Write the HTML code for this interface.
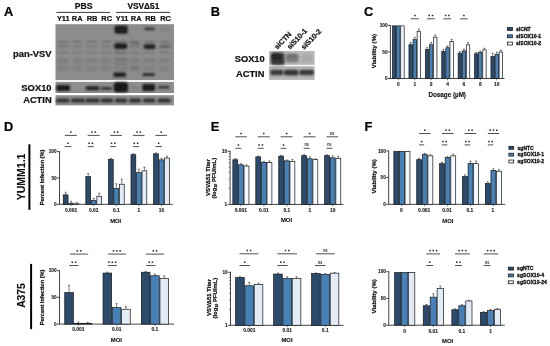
<!DOCTYPE html>
<html><head><meta charset="utf-8"><title>Figure</title>
<style>html,body{margin:0;padding:0;background:#fff;width:550px;height:346px;overflow:hidden}svg{display:block}</style>
</head><body>
<svg width="550" height="346" viewBox="0 0 550 346" font-family="'Liberation Sans', Arial, sans-serif">
<defs><filter id="bl" x="-50%" y="-100%" width="200%" height="300%"><feGaussianBlur stdDeviation="1.0"/></filter><filter id="bl2" x="-50%" y="-100%" width="200%" height="300%"><feGaussianBlur stdDeviation="1.4"/></filter></defs>
<rect width="550" height="346" fill="#fff"/>
<text x="3.90" y="15.60" font-size="12.8" text-anchor="start" font-weight="bold" fill="#000" stroke="#000" stroke-width="0.2">A</text>
<text x="210.80" y="15.60" font-size="12.8" text-anchor="start" font-weight="bold" fill="#000" stroke="#000" stroke-width="0.2">B</text>
<text x="363.90" y="15.80" font-size="12.8" text-anchor="start" font-weight="bold" fill="#000" stroke="#000" stroke-width="0.2">C</text>
<text x="3.90" y="131.00" font-size="12.8" text-anchor="start" font-weight="bold" fill="#000" stroke="#000" stroke-width="0.2">D</text>
<text x="210.80" y="131.30" font-size="12.8" text-anchor="start" font-weight="bold" fill="#000" stroke="#000" stroke-width="0.2">E</text>
<text x="364.40" y="130.80" font-size="12.8" text-anchor="start" font-weight="bold" fill="#000" stroke="#000" stroke-width="0.2">F</text>
<text x="83.70" y="9.20" font-size="8.6" text-anchor="middle" font-weight="bold" fill="#111" stroke="#111" stroke-width="0.22">PBS</text>
<text x="143.40" y="8.90" font-size="8.3" text-anchor="middle" font-weight="bold" fill="#111" stroke="#111" stroke-width="0.22">VSV&#916;51</text>
<line x1="56.40" y1="12.40" x2="110.00" y2="12.40" stroke="#222" stroke-width="0.9"/>
<line x1="116.00" y1="12.40" x2="170.00" y2="12.40" stroke="#222" stroke-width="0.9"/>
<text x="63.30" y="21.10" font-size="7.4" text-anchor="middle" font-weight="bold" fill="#111" stroke="#111" stroke-width="0.22">Y11</text>
<text x="77.20" y="21.10" font-size="7.4" text-anchor="middle" font-weight="bold" fill="#111" stroke="#111" stroke-width="0.22">RA</text>
<text x="92.00" y="21.10" font-size="7.4" text-anchor="middle" font-weight="bold" fill="#111" stroke="#111" stroke-width="0.22">RB</text>
<text x="106.70" y="21.10" font-size="7.4" text-anchor="middle" font-weight="bold" fill="#111" stroke="#111" stroke-width="0.22">RC</text>
<text x="122.10" y="21.10" font-size="7.4" text-anchor="middle" font-weight="bold" fill="#111" stroke="#111" stroke-width="0.22">Y11</text>
<text x="136.20" y="21.10" font-size="7.4" text-anchor="middle" font-weight="bold" fill="#111" stroke="#111" stroke-width="0.22">RA</text>
<text x="150.50" y="21.10" font-size="7.4" text-anchor="middle" font-weight="bold" fill="#111" stroke="#111" stroke-width="0.22">RB</text>
<text x="165.50" y="21.10" font-size="7.4" text-anchor="middle" font-weight="bold" fill="#111" stroke="#111" stroke-width="0.22">RC</text>
<text x="51.60" y="56.80" font-size="9.4" text-anchor="end" font-weight="bold" fill="#111" stroke="#111" stroke-width="0.22">pan-VSV</text>
<text x="51.60" y="90.70" font-size="9.4" text-anchor="end" font-weight="bold" fill="#111" stroke="#111" stroke-width="0.22">SOX10</text>
<text x="51.60" y="102.70" font-size="9.3" text-anchor="end" font-weight="bold" fill="#111" stroke="#111" stroke-width="0.22">ACTIN</text>
<g><rect x="55.5" y="24.2" width="118.5" height="55.9" fill="#8c8c8c"/><rect x="55.5" y="81.9" width="118.5" height="11.1" fill="#8e8e8e"/><rect x="55.5" y="95.2" width="118.5" height="10.2" fill="#909090"/><rect x="57.50" y="41.00" width="11.00" height="1.60" rx="0.8" fill="#555" opacity="0.6" filter="url(#bl)"/><rect x="57.50" y="45.70" width="11.00" height="1.60" rx="0.8" fill="#555" opacity="0.5" filter="url(#bl)"/><rect x="57.50" y="51.70" width="11.00" height="1.60" rx="0.8" fill="#555" opacity="0.45" filter="url(#bl)"/><rect x="57.50" y="59.00" width="11.00" height="1.60" rx="0.8" fill="#555" opacity="0.5" filter="url(#bl)"/><rect x="57.50" y="66.70" width="11.00" height="1.60" rx="0.8" fill="#555" opacity="0.4" filter="url(#bl)"/><rect x="57.50" y="62.20" width="11.00" height="1.60" rx="0.8" fill="#555" opacity="0.3" filter="url(#bl)"/><rect x="57.50" y="69.70" width="11.00" height="1.60" rx="0.8" fill="#555" opacity="0.3" filter="url(#bl)"/><rect x="72.50" y="41.00" width="9.50" height="1.60" rx="0.8" fill="#555" opacity="0.6" filter="url(#bl)"/><rect x="72.50" y="45.70" width="9.50" height="1.60" rx="0.8" fill="#555" opacity="0.5" filter="url(#bl)"/><rect x="72.50" y="51.70" width="9.50" height="1.60" rx="0.8" fill="#555" opacity="0.45" filter="url(#bl)"/><rect x="72.50" y="59.00" width="9.50" height="1.60" rx="0.8" fill="#555" opacity="0.5" filter="url(#bl)"/><rect x="72.50" y="66.70" width="9.50" height="1.60" rx="0.8" fill="#555" opacity="0.4" filter="url(#bl)"/><rect x="72.50" y="62.20" width="9.50" height="1.60" rx="0.8" fill="#555" opacity="0.3" filter="url(#bl)"/><rect x="72.50" y="69.70" width="9.50" height="1.60" rx="0.8" fill="#555" opacity="0.3" filter="url(#bl)"/><rect x="86.50" y="41.00" width="10.50" height="1.60" rx="0.8" fill="#555" opacity="0.6" filter="url(#bl)"/><rect x="86.50" y="45.70" width="10.50" height="1.60" rx="0.8" fill="#555" opacity="0.5" filter="url(#bl)"/><rect x="86.50" y="51.70" width="10.50" height="1.60" rx="0.8" fill="#555" opacity="0.45" filter="url(#bl)"/><rect x="86.50" y="59.00" width="10.50" height="1.60" rx="0.8" fill="#555" opacity="0.5" filter="url(#bl)"/><rect x="86.50" y="66.70" width="10.50" height="1.60" rx="0.8" fill="#555" opacity="0.4" filter="url(#bl)"/><rect x="86.50" y="62.20" width="10.50" height="1.60" rx="0.8" fill="#555" opacity="0.3" filter="url(#bl)"/><rect x="86.50" y="69.70" width="10.50" height="1.60" rx="0.8" fill="#555" opacity="0.3" filter="url(#bl)"/><rect x="101.00" y="41.00" width="10.50" height="1.60" rx="0.8" fill="#555" opacity="0.6" filter="url(#bl)"/><rect x="101.00" y="45.70" width="10.50" height="1.60" rx="0.8" fill="#555" opacity="0.5" filter="url(#bl)"/><rect x="101.00" y="51.70" width="10.50" height="1.60" rx="0.8" fill="#555" opacity="0.45" filter="url(#bl)"/><rect x="101.00" y="59.00" width="10.50" height="1.60" rx="0.8" fill="#555" opacity="0.5" filter="url(#bl)"/><rect x="101.00" y="66.70" width="10.50" height="1.60" rx="0.8" fill="#555" opacity="0.4" filter="url(#bl)"/><rect x="101.00" y="62.20" width="10.50" height="1.60" rx="0.8" fill="#555" opacity="0.3" filter="url(#bl)"/><rect x="101.00" y="69.70" width="10.50" height="1.60" rx="0.8" fill="#555" opacity="0.3" filter="url(#bl)"/><rect x="114.50" y="41.00" width="13.00" height="1.60" rx="0.8" fill="#555" opacity="0.6" filter="url(#bl)"/><rect x="114.50" y="45.70" width="13.00" height="1.60" rx="0.8" fill="#555" opacity="0.5" filter="url(#bl)"/><rect x="114.50" y="51.70" width="13.00" height="1.60" rx="0.8" fill="#555" opacity="0.45" filter="url(#bl)"/><rect x="114.50" y="59.00" width="13.00" height="1.60" rx="0.8" fill="#555" opacity="0.5" filter="url(#bl)"/><rect x="114.50" y="66.70" width="13.00" height="1.60" rx="0.8" fill="#555" opacity="0.4" filter="url(#bl)"/><rect x="114.50" y="62.20" width="13.00" height="1.60" rx="0.8" fill="#555" opacity="0.3" filter="url(#bl)"/><rect x="114.50" y="69.70" width="13.00" height="1.60" rx="0.8" fill="#555" opacity="0.3" filter="url(#bl)"/><rect x="130.00" y="41.00" width="9.50" height="1.60" rx="0.8" fill="#555" opacity="0.6" filter="url(#bl)"/><rect x="130.00" y="45.70" width="9.50" height="1.60" rx="0.8" fill="#555" opacity="0.5" filter="url(#bl)"/><rect x="130.00" y="51.70" width="9.50" height="1.60" rx="0.8" fill="#555" opacity="0.45" filter="url(#bl)"/><rect x="130.00" y="59.00" width="9.50" height="1.60" rx="0.8" fill="#555" opacity="0.5" filter="url(#bl)"/><rect x="130.00" y="66.70" width="9.50" height="1.60" rx="0.8" fill="#555" opacity="0.4" filter="url(#bl)"/><rect x="130.00" y="62.20" width="9.50" height="1.60" rx="0.8" fill="#555" opacity="0.3" filter="url(#bl)"/><rect x="130.00" y="69.70" width="9.50" height="1.60" rx="0.8" fill="#555" opacity="0.3" filter="url(#bl)"/><rect x="144.00" y="41.00" width="11.00" height="1.60" rx="0.8" fill="#555" opacity="0.6" filter="url(#bl)"/><rect x="144.00" y="45.70" width="11.00" height="1.60" rx="0.8" fill="#555" opacity="0.5" filter="url(#bl)"/><rect x="144.00" y="51.70" width="11.00" height="1.60" rx="0.8" fill="#555" opacity="0.45" filter="url(#bl)"/><rect x="144.00" y="59.00" width="11.00" height="1.60" rx="0.8" fill="#555" opacity="0.5" filter="url(#bl)"/><rect x="144.00" y="66.70" width="11.00" height="1.60" rx="0.8" fill="#555" opacity="0.4" filter="url(#bl)"/><rect x="144.00" y="62.20" width="11.00" height="1.60" rx="0.8" fill="#555" opacity="0.3" filter="url(#bl)"/><rect x="144.00" y="69.70" width="11.00" height="1.60" rx="0.8" fill="#555" opacity="0.3" filter="url(#bl)"/><rect x="160.00" y="41.00" width="10.00" height="1.60" rx="0.8" fill="#555" opacity="0.6" filter="url(#bl)"/><rect x="160.00" y="45.70" width="10.00" height="1.60" rx="0.8" fill="#555" opacity="0.5" filter="url(#bl)"/><rect x="160.00" y="51.70" width="10.00" height="1.60" rx="0.8" fill="#555" opacity="0.45" filter="url(#bl)"/><rect x="160.00" y="59.00" width="10.00" height="1.60" rx="0.8" fill="#555" opacity="0.5" filter="url(#bl)"/><rect x="160.00" y="66.70" width="10.00" height="1.60" rx="0.8" fill="#555" opacity="0.4" filter="url(#bl)"/><rect x="160.00" y="62.20" width="10.00" height="1.60" rx="0.8" fill="#555" opacity="0.3" filter="url(#bl)"/><rect x="160.00" y="69.70" width="10.00" height="1.60" rx="0.8" fill="#555" opacity="0.3" filter="url(#bl)"/><rect x="114.50" y="25.40" width="13.20" height="8.40" rx="2.5" fill="#1e1e1e" opacity="1" filter="url(#bl)"/><rect x="116" y="29.4" width="10.5" height="0.8" fill="#555" opacity="0.5" filter="url(#bl)"/><rect x="114.20" y="43.30" width="13.00" height="5.70" rx="2.5" fill="#1b1b1b" opacity="1" filter="url(#bl)"/><rect x="113.20" y="72.50" width="13.00" height="4.50" rx="2.2" fill="#1e1e1e" opacity="1" filter="url(#bl)"/><rect x="144.30" y="27.60" width="10.60" height="2.70" rx="1" fill="#2e2e2e" opacity="0.9" filter="url(#bl)"/><rect x="143.70" y="44.30" width="11.80" height="4.70" rx="2.2" fill="#222" opacity="1" filter="url(#bl)"/><rect x="142.60" y="73.40" width="12.10" height="2.50" rx="1.2" fill="#1a1a1a" opacity="1" filter="url(#bl)"/><rect x="130.00" y="42.50" width="10.00" height="2.10" rx="1" fill="#555" opacity="0.6" filter="url(#bl)"/><rect x="115.00" y="52.00" width="12.00" height="1.60" rx="1" fill="#555" opacity="0.5" filter="url(#bl)"/><rect x="115.00" y="58.00" width="12.00" height="1.60" rx="1" fill="#555" opacity="0.4" filter="url(#bl)"/><rect x="115.00" y="63.50" width="12.00" height="1.50" rx="1" fill="#555" opacity="0.4" filter="url(#bl)"/><rect x="130.00" y="66.80" width="10.00" height="1.60" rx="1" fill="#555" opacity="0.45" filter="url(#bl)"/><rect x="159.60" y="45.20" width="10.70" height="2.80" rx="1" fill="#555" opacity="0.7" filter="url(#bl)"/><rect x="159.60" y="28.40" width="10.70" height="2.00" rx="1" fill="#666" opacity="0.4" filter="url(#bl)"/><rect x="56.20" y="85.00" width="13.90" height="6.00" rx="2" fill="#1c1c1c" opacity="1" filter="url(#bl)"/><rect x="85.50" y="86.30" width="14.10" height="4.00" rx="1.8" fill="#222" opacity="1" filter="url(#bl)"/><rect x="100.80" y="87.00" width="11.20" height="2.80" rx="1.2" fill="#2a2a2a" opacity="0.95" filter="url(#bl)"/><rect x="113.80" y="82.20" width="14.20" height="10.10" rx="3" fill="#141414" opacity="1" filter="url(#bl)"/><rect x="130.50" y="87.20" width="9.00" height="1.60" rx="0.8" fill="#555" opacity="0.5" filter="url(#bl)"/><rect x="142.20" y="83.90" width="13.00" height="7.10" rx="2.5" fill="#1a1a1a" opacity="1" filter="url(#bl)"/><rect x="158.30" y="85.90" width="11.10" height="2.70" rx="1.2" fill="#2a2a2a" opacity="0.95" filter="url(#bl)"/><rect x="56.00" y="98.60" width="13.50" height="3.80" rx="1.5" fill="#2c2c2c" opacity="0.95" filter="url(#bl)"/><rect x="71.00" y="98.60" width="14.00" height="3.80" rx="1.5" fill="#2c2c2c" opacity="0.95" filter="url(#bl)"/><rect x="85.50" y="98.60" width="14.10" height="3.80" rx="1.5" fill="#2c2c2c" opacity="0.95" filter="url(#bl)"/><rect x="100.80" y="98.60" width="12.40" height="3.80" rx="1.5" fill="#2c2c2c" opacity="0.95" filter="url(#bl)"/><rect x="115.00" y="98.60" width="12.00" height="3.80" rx="1.5" fill="#2c2c2c" opacity="0.95" filter="url(#bl)"/><rect x="129.20" y="98.60" width="11.80" height="3.80" rx="1.5" fill="#2c2c2c" opacity="0.95" filter="url(#bl)"/><rect x="143.00" y="98.60" width="12.20" height="3.80" rx="1.5" fill="#2c2c2c" opacity="0.95" filter="url(#bl)"/><rect x="157.50" y="98.60" width="13.00" height="3.80" rx="1.5" fill="#2c2c2c" opacity="0.95" filter="url(#bl)"/></g>
<g><rect x="269.1" y="51" width="45.5" height="13.9" fill="#b9b9b9"/><rect x="269.1" y="66.1" width="45.5" height="13.8" fill="#b6b6b6"/><rect x="271.00" y="52.80" width="13.60" height="12.20" rx="2.5" fill="#3a3a3a" opacity="1" filter="url(#bl)"/><rect x="271.60" y="53.50" width="9.40" height="7.10" rx="2.5" fill="#222" opacity="0.8" filter="url(#bl)"/><rect x="286.00" y="53.80" width="12.60" height="8.70" rx="2.5" fill="#727272" opacity="0.85" filter="url(#bl)"/><rect x="286.50" y="54.20" width="10.50" height="4.30" rx="2" fill="#666" opacity="0.6" filter="url(#bl)"/><rect x="301.50" y="54.50" width="11.00" height="7.50" rx="2" fill="#9c9c9c" opacity="0.55" filter="url(#bl)"/><rect x="270.30" y="69.80" width="13.30" height="5.40" rx="2" fill="#3a3a3a" opacity="1" filter="url(#bl)"/><rect x="284.00" y="69.80" width="14.60" height="5.60" rx="2" fill="#363636" opacity="1" filter="url(#bl)"/><rect x="299.30" y="69.80" width="14.70" height="5.40" rx="2" fill="#3a3a3a" opacity="1" filter="url(#bl)"/></g>
<text x="264.70" y="62.20" font-size="9.3" text-anchor="end" font-weight="bold" fill="#111" stroke="#111" stroke-width="0.22">SOX10</text>
<text x="264.40" y="76.90" font-size="9.3" text-anchor="end" font-weight="bold" fill="#111" stroke="#111" stroke-width="0.22">ACTIN</text>
<text x="277.30" y="49.80" font-size="7.3" text-anchor="start" font-weight="bold" fill="#111" stroke="#111" stroke-width="0.22" transform="rotate(-46 277.30 49.80)">siCTN</text>
<text x="289.90" y="49.80" font-size="7.3" text-anchor="start" font-weight="bold" fill="#111" stroke="#111" stroke-width="0.22" transform="rotate(-46 289.90 49.80)">siS10-1</text>
<text x="304.10" y="50.10" font-size="7.3" text-anchor="start" font-weight="bold" fill="#111" stroke="#111" stroke-width="0.22" transform="rotate(-46 304.10 50.10)">siS10-2</text>
<line x1="390.40" y1="25.00" x2="390.40" y2="78.90" stroke="#3c3c3c" stroke-width="0.95"/>
<line x1="390.40" y1="78.50" x2="504.50" y2="78.50" stroke="#3c3c3c" stroke-width="0.95"/>
<line x1="387.90" y1="78.50" x2="390.40" y2="78.50" stroke="#2a2a2a" stroke-width="0.85"/>
<text x="387.50" y="80.15" font-size="4.7" text-anchor="end" font-weight="bold" fill="#1a1a1a" stroke="#1a1a1a" stroke-width="0.12">0</text>
<line x1="387.90" y1="51.95" x2="390.40" y2="51.95" stroke="#2a2a2a" stroke-width="0.85"/>
<text x="387.50" y="53.60" font-size="4.7" text-anchor="end" font-weight="bold" fill="#1a1a1a" stroke="#1a1a1a" stroke-width="0.12">50</text>
<line x1="387.90" y1="25.40" x2="390.40" y2="25.40" stroke="#2a2a2a" stroke-width="0.85"/>
<text x="387.50" y="27.05" font-size="4.7" text-anchor="end" font-weight="bold" fill="#1a1a1a" stroke="#1a1a1a" stroke-width="0.12">100</text>
<rect x="392.55" y="25.85" width="3.40" height="52.65" fill="#2b4a6c" stroke="#161616" stroke-width="0.7"/>
<rect x="396.65" y="25.85" width="3.40" height="52.65" fill="#4682b8" stroke="#161616" stroke-width="0.7"/>
<rect x="400.75" y="25.85" width="3.40" height="52.65" fill="#f6f9fd" stroke="#161616" stroke-width="0.7"/>
<line x1="398.35" y1="78.50" x2="398.35" y2="80.30" stroke="#333" stroke-width="0.7"/>
<rect x="408.95" y="44.75" width="3.40" height="33.75" fill="#2b4a6c" stroke="#161616" stroke-width="0.7"/>
<line x1="410.65" y1="44.40" x2="410.65" y2="42.60" stroke="#222" stroke-width="0.6"/>
<line x1="409.65" y1="42.60" x2="411.65" y2="42.60" stroke="#222" stroke-width="0.6"/>
<rect x="413.05" y="39.55" width="3.40" height="38.95" fill="#4682b8" stroke="#161616" stroke-width="0.7"/>
<line x1="414.75" y1="39.20" x2="414.75" y2="37.40" stroke="#222" stroke-width="0.6"/>
<line x1="413.75" y1="37.40" x2="415.75" y2="37.40" stroke="#222" stroke-width="0.6"/>
<rect x="417.15" y="31.45" width="3.40" height="47.05" fill="#f6f9fd" stroke="#161616" stroke-width="0.7"/>
<line x1="418.85" y1="31.10" x2="418.85" y2="29.10" stroke="#222" stroke-width="0.6"/>
<line x1="417.85" y1="29.10" x2="419.85" y2="29.10" stroke="#222" stroke-width="0.6"/>
<line x1="414.75" y1="78.50" x2="414.75" y2="80.30" stroke="#333" stroke-width="0.7"/>
<rect x="425.35" y="49.55" width="3.40" height="28.95" fill="#2b4a6c" stroke="#161616" stroke-width="0.7"/>
<line x1="427.05" y1="49.20" x2="427.05" y2="47.70" stroke="#222" stroke-width="0.6"/>
<line x1="426.05" y1="47.70" x2="428.05" y2="47.70" stroke="#222" stroke-width="0.6"/>
<rect x="429.45" y="44.75" width="3.40" height="33.75" fill="#4682b8" stroke="#161616" stroke-width="0.7"/>
<line x1="431.15" y1="44.40" x2="431.15" y2="42.60" stroke="#222" stroke-width="0.6"/>
<line x1="430.15" y1="42.60" x2="432.15" y2="42.60" stroke="#222" stroke-width="0.6"/>
<rect x="433.55" y="37.15" width="3.40" height="41.35" fill="#f6f9fd" stroke="#161616" stroke-width="0.7"/>
<line x1="435.25" y1="36.80" x2="435.25" y2="35.00" stroke="#222" stroke-width="0.6"/>
<line x1="434.25" y1="35.00" x2="436.25" y2="35.00" stroke="#222" stroke-width="0.6"/>
<line x1="431.15" y1="78.50" x2="431.15" y2="80.30" stroke="#333" stroke-width="0.7"/>
<rect x="441.75" y="51.35" width="3.40" height="27.15" fill="#2b4a6c" stroke="#161616" stroke-width="0.7"/>
<line x1="443.45" y1="51.00" x2="443.45" y2="49.50" stroke="#222" stroke-width="0.6"/>
<line x1="442.45" y1="49.50" x2="444.45" y2="49.50" stroke="#222" stroke-width="0.6"/>
<rect x="445.85" y="47.75" width="3.40" height="30.75" fill="#4682b8" stroke="#161616" stroke-width="0.7"/>
<line x1="447.55" y1="47.40" x2="447.55" y2="45.90" stroke="#222" stroke-width="0.6"/>
<line x1="446.55" y1="45.90" x2="448.55" y2="45.90" stroke="#222" stroke-width="0.6"/>
<rect x="449.95" y="41.55" width="3.40" height="36.95" fill="#f6f9fd" stroke="#161616" stroke-width="0.7"/>
<line x1="451.65" y1="41.20" x2="451.65" y2="39.40" stroke="#222" stroke-width="0.6"/>
<line x1="450.65" y1="39.40" x2="452.65" y2="39.40" stroke="#222" stroke-width="0.6"/>
<line x1="447.55" y1="78.50" x2="447.55" y2="80.30" stroke="#333" stroke-width="0.7"/>
<rect x="458.15" y="53.15" width="3.40" height="25.35" fill="#2b4a6c" stroke="#161616" stroke-width="0.7"/>
<line x1="459.85" y1="52.80" x2="459.85" y2="51.60" stroke="#222" stroke-width="0.6"/>
<line x1="458.85" y1="51.60" x2="460.85" y2="51.60" stroke="#222" stroke-width="0.6"/>
<rect x="462.25" y="50.95" width="3.40" height="27.55" fill="#4682b8" stroke="#161616" stroke-width="0.7"/>
<line x1="463.95" y1="50.60" x2="463.95" y2="49.10" stroke="#222" stroke-width="0.6"/>
<line x1="462.95" y1="49.10" x2="464.95" y2="49.10" stroke="#222" stroke-width="0.6"/>
<rect x="466.35" y="44.85" width="3.40" height="33.65" fill="#f6f9fd" stroke="#161616" stroke-width="0.7"/>
<line x1="468.05" y1="44.50" x2="468.05" y2="42.60" stroke="#222" stroke-width="0.6"/>
<line x1="467.05" y1="42.60" x2="469.05" y2="42.60" stroke="#222" stroke-width="0.6"/>
<line x1="463.95" y1="78.50" x2="463.95" y2="80.30" stroke="#333" stroke-width="0.7"/>
<rect x="474.55" y="53.85" width="3.40" height="24.65" fill="#2b4a6c" stroke="#161616" stroke-width="0.7"/>
<line x1="476.25" y1="53.50" x2="476.25" y2="52.50" stroke="#222" stroke-width="0.6"/>
<line x1="475.25" y1="52.50" x2="477.25" y2="52.50" stroke="#222" stroke-width="0.6"/>
<rect x="478.65" y="52.35" width="3.40" height="26.15" fill="#4682b8" stroke="#161616" stroke-width="0.7"/>
<line x1="480.35" y1="52.00" x2="480.35" y2="51.00" stroke="#222" stroke-width="0.6"/>
<line x1="479.35" y1="51.00" x2="481.35" y2="51.00" stroke="#222" stroke-width="0.6"/>
<rect x="482.75" y="49.85" width="3.40" height="28.65" fill="#f6f9fd" stroke="#161616" stroke-width="0.7"/>
<line x1="484.45" y1="49.50" x2="484.45" y2="48.30" stroke="#222" stroke-width="0.6"/>
<line x1="483.45" y1="48.30" x2="485.45" y2="48.30" stroke="#222" stroke-width="0.6"/>
<line x1="480.35" y1="78.50" x2="480.35" y2="80.30" stroke="#333" stroke-width="0.7"/>
<rect x="490.95" y="56.35" width="3.40" height="22.15" fill="#2b4a6c" stroke="#161616" stroke-width="0.7"/>
<line x1="492.65" y1="56.00" x2="492.65" y2="53.20" stroke="#222" stroke-width="0.6"/>
<line x1="491.65" y1="53.20" x2="493.65" y2="53.20" stroke="#222" stroke-width="0.6"/>
<rect x="495.05" y="54.35" width="3.40" height="24.15" fill="#4682b8" stroke="#161616" stroke-width="0.7"/>
<line x1="496.75" y1="54.00" x2="496.75" y2="52.20" stroke="#222" stroke-width="0.6"/>
<line x1="495.75" y1="52.20" x2="497.75" y2="52.20" stroke="#222" stroke-width="0.6"/>
<rect x="499.15" y="51.95" width="3.40" height="26.55" fill="#f6f9fd" stroke="#161616" stroke-width="0.7"/>
<line x1="500.85" y1="51.60" x2="500.85" y2="50.10" stroke="#222" stroke-width="0.6"/>
<line x1="499.85" y1="50.10" x2="501.85" y2="50.10" stroke="#222" stroke-width="0.6"/>
<line x1="496.75" y1="78.50" x2="496.75" y2="80.30" stroke="#333" stroke-width="0.7"/>
<text x="398.35" y="86.00" font-size="4.9" text-anchor="middle" font-weight="bold" fill="#1a1a1a" stroke="#1a1a1a" stroke-width="0.12">0</text>
<text x="414.75" y="86.00" font-size="4.9" text-anchor="middle" font-weight="bold" fill="#1a1a1a" stroke="#1a1a1a" stroke-width="0.12">1</text>
<text x="431.15" y="86.00" font-size="4.9" text-anchor="middle" font-weight="bold" fill="#1a1a1a" stroke="#1a1a1a" stroke-width="0.12">2</text>
<text x="447.55" y="86.00" font-size="4.9" text-anchor="middle" font-weight="bold" fill="#1a1a1a" stroke="#1a1a1a" stroke-width="0.12">4</text>
<text x="463.95" y="86.00" font-size="4.9" text-anchor="middle" font-weight="bold" fill="#1a1a1a" stroke="#1a1a1a" stroke-width="0.12">6</text>
<text x="480.35" y="86.00" font-size="4.9" text-anchor="middle" font-weight="bold" fill="#1a1a1a" stroke="#1a1a1a" stroke-width="0.12">8</text>
<text x="496.75" y="86.00" font-size="4.9" text-anchor="middle" font-weight="bold" fill="#1a1a1a" stroke="#1a1a1a" stroke-width="0.12">10</text>
<line x1="410.90" y1="18.80" x2="418.90" y2="18.80" stroke="#505050" stroke-width="1.0"/>
<rect x="414.15" y="14.75" width="1.50" height="1.50" fill="#222"/>
<line x1="426.90" y1="18.80" x2="434.90" y2="18.80" stroke="#505050" stroke-width="1.0"/>
<rect x="428.50" y="14.75" width="1.50" height="1.50" fill="#222"/>
<rect x="431.80" y="14.75" width="1.50" height="1.50" fill="#222"/>
<line x1="443.30" y1="18.80" x2="451.20" y2="18.80" stroke="#505050" stroke-width="1.0"/>
<rect x="444.85" y="14.75" width="1.50" height="1.50" fill="#222"/>
<rect x="448.15" y="14.75" width="1.50" height="1.50" fill="#222"/>
<line x1="459.90" y1="18.80" x2="467.90" y2="18.80" stroke="#505050" stroke-width="1.0"/>
<rect x="463.15" y="14.75" width="1.50" height="1.50" fill="#222"/>
<text x="447.20" y="96.90" font-size="6.3" text-anchor="middle" font-weight="bold" fill="#111" stroke="#111" stroke-width="0.12">Dosage (&#181;M)</text>
<text x="376.10" y="51.10" font-size="6.1" text-anchor="middle" font-weight="bold" fill="#111" stroke="#111" stroke-width="0.22" transform="rotate(-90 376.10 51.10)">Viability (%)</text>
<rect x="507.40" y="27.60" width="5.00" height="2.90" fill="#2b4a6c" stroke="#161616" stroke-width="0.75"/>
<text x="516.00" y="30.85" font-size="5.1" text-anchor="start" font-weight="bold" fill="#111" stroke="#111" stroke-width="0.3">siCNT</text>
<rect x="507.40" y="34.85" width="5.00" height="2.90" fill="#4682b8" stroke="#161616" stroke-width="0.75"/>
<text x="516.00" y="38.10" font-size="5.1" text-anchor="start" font-weight="bold" fill="#111" stroke="#111" stroke-width="0.3">siSOX10-1</text>
<rect x="507.40" y="42.10" width="5.00" height="2.90" fill="#f6f9fd" stroke="#161616" stroke-width="0.75"/>
<text x="516.00" y="45.35" font-size="5.1" text-anchor="start" font-weight="bold" fill="#111" stroke="#111" stroke-width="0.3">siSOX10-2</text>
<text x="25.30" y="176.90" font-size="10.5" text-anchor="middle" font-weight="bold" fill="#111" stroke="#111" stroke-width="0.15" transform="rotate(-90 25.30 176.90)">YUMM1.1</text>
<rect x="28.40" y="144.30" width="2.00" height="65.50" fill="#000"/>
<text x="43.90" y="177.50" font-size="5.6" text-anchor="middle" font-weight="bold" fill="#111" stroke="#111" stroke-width="0.22" transform="rotate(-90 43.90 177.50)">Percent Infection (%)</text>
<line x1="59.50" y1="151.20" x2="59.50" y2="204.70" stroke="#3c3c3c" stroke-width="0.95"/>
<line x1="59.50" y1="204.30" x2="172.80" y2="204.30" stroke="#3c3c3c" stroke-width="0.95"/>
<line x1="57.00" y1="204.30" x2="59.50" y2="204.30" stroke="#2a2a2a" stroke-width="0.85"/>
<text x="56.60" y="205.95" font-size="4.7" text-anchor="end" font-weight="bold" fill="#1a1a1a" stroke="#1a1a1a" stroke-width="0.12">0</text>
<line x1="57.00" y1="177.95" x2="59.50" y2="177.95" stroke="#2a2a2a" stroke-width="0.85"/>
<text x="56.60" y="179.60" font-size="4.7" text-anchor="end" font-weight="bold" fill="#1a1a1a" stroke="#1a1a1a" stroke-width="0.12">50</text>
<line x1="57.00" y1="151.60" x2="59.50" y2="151.60" stroke="#2a2a2a" stroke-width="0.85"/>
<text x="56.60" y="153.25" font-size="4.7" text-anchor="end" font-weight="bold" fill="#1a1a1a" stroke="#1a1a1a" stroke-width="0.12">100</text>
<rect x="63.25" y="194.85" width="4.80" height="9.45" fill="#2b4a6c" stroke="#161616" stroke-width="0.7"/>
<line x1="65.65" y1="194.50" x2="65.65" y2="192.30" stroke="#222" stroke-width="0.6"/>
<line x1="64.65" y1="192.30" x2="66.65" y2="192.30" stroke="#222" stroke-width="0.6"/>
<rect x="68.75" y="203.25" width="4.80" height="1.05" fill="#4682b8" stroke="#161616" stroke-width="0.7"/>
<line x1="71.15" y1="202.90" x2="71.15" y2="201.40" stroke="#222" stroke-width="0.6"/>
<line x1="70.15" y1="201.40" x2="72.15" y2="201.40" stroke="#222" stroke-width="0.6"/>
<rect x="74.25" y="203.95" width="4.80" height="0.35" fill="#e3ecf6" stroke="#161616" stroke-width="0.7"/>
<line x1="76.65" y1="203.60" x2="76.65" y2="202.60" stroke="#222" stroke-width="0.6"/>
<line x1="75.65" y1="202.60" x2="77.65" y2="202.60" stroke="#222" stroke-width="0.6"/>
<line x1="71.15" y1="204.30" x2="71.15" y2="206.10" stroke="#333" stroke-width="0.7"/>
<rect x="85.83" y="176.55" width="4.80" height="27.75" fill="#2b4a6c" stroke="#161616" stroke-width="0.7"/>
<line x1="88.23" y1="176.20" x2="88.23" y2="173.50" stroke="#222" stroke-width="0.6"/>
<line x1="87.23" y1="173.50" x2="89.23" y2="173.50" stroke="#222" stroke-width="0.6"/>
<rect x="91.33" y="200.55" width="4.80" height="3.75" fill="#4682b8" stroke="#161616" stroke-width="0.7"/>
<line x1="93.73" y1="200.20" x2="93.73" y2="198.40" stroke="#222" stroke-width="0.6"/>
<line x1="92.73" y1="198.40" x2="94.73" y2="198.40" stroke="#222" stroke-width="0.6"/>
<rect x="96.83" y="196.25" width="4.80" height="8.05" fill="#e3ecf6" stroke="#161616" stroke-width="0.7"/>
<line x1="99.23" y1="195.90" x2="99.23" y2="193.20" stroke="#222" stroke-width="0.6"/>
<line x1="98.23" y1="193.20" x2="100.23" y2="193.20" stroke="#222" stroke-width="0.6"/>
<line x1="93.73" y1="204.30" x2="93.73" y2="206.10" stroke="#333" stroke-width="0.7"/>
<rect x="108.41" y="159.55" width="4.80" height="44.75" fill="#2b4a6c" stroke="#161616" stroke-width="0.7"/>
<line x1="110.81" y1="159.20" x2="110.81" y2="158.40" stroke="#222" stroke-width="0.6"/>
<line x1="109.81" y1="158.40" x2="111.81" y2="158.40" stroke="#222" stroke-width="0.6"/>
<rect x="113.91" y="188.55" width="4.80" height="15.75" fill="#4682b8" stroke="#161616" stroke-width="0.7"/>
<line x1="116.31" y1="188.20" x2="116.31" y2="183.80" stroke="#222" stroke-width="0.6"/>
<line x1="115.31" y1="183.80" x2="117.31" y2="183.80" stroke="#222" stroke-width="0.6"/>
<rect x="119.41" y="184.25" width="4.80" height="20.05" fill="#e3ecf6" stroke="#161616" stroke-width="0.7"/>
<line x1="121.81" y1="183.90" x2="121.81" y2="179.10" stroke="#222" stroke-width="0.6"/>
<line x1="120.81" y1="179.10" x2="122.81" y2="179.10" stroke="#222" stroke-width="0.6"/>
<line x1="116.31" y1="204.30" x2="116.31" y2="206.10" stroke="#333" stroke-width="0.7"/>
<rect x="130.99" y="154.65" width="4.80" height="49.65" fill="#2b4a6c" stroke="#161616" stroke-width="0.7"/>
<line x1="133.39" y1="154.30" x2="133.39" y2="153.80" stroke="#222" stroke-width="0.6"/>
<line x1="132.39" y1="153.80" x2="134.39" y2="153.80" stroke="#222" stroke-width="0.6"/>
<rect x="136.49" y="172.65" width="4.80" height="31.65" fill="#4682b8" stroke="#161616" stroke-width="0.7"/>
<line x1="138.89" y1="172.30" x2="138.89" y2="169.20" stroke="#222" stroke-width="0.6"/>
<line x1="137.89" y1="169.20" x2="139.89" y2="169.20" stroke="#222" stroke-width="0.6"/>
<rect x="141.99" y="170.85" width="4.80" height="33.45" fill="#e3ecf6" stroke="#161616" stroke-width="0.7"/>
<line x1="144.39" y1="170.50" x2="144.39" y2="167.20" stroke="#222" stroke-width="0.6"/>
<line x1="143.39" y1="167.20" x2="145.39" y2="167.20" stroke="#222" stroke-width="0.6"/>
<line x1="138.89" y1="204.30" x2="138.89" y2="206.10" stroke="#333" stroke-width="0.7"/>
<rect x="153.57" y="153.85" width="4.80" height="50.45" fill="#2b4a6c" stroke="#161616" stroke-width="0.7"/>
<line x1="155.97" y1="153.50" x2="155.97" y2="153.00" stroke="#222" stroke-width="0.6"/>
<line x1="154.97" y1="153.00" x2="156.97" y2="153.00" stroke="#222" stroke-width="0.6"/>
<rect x="159.07" y="159.85" width="4.80" height="44.45" fill="#4682b8" stroke="#161616" stroke-width="0.7"/>
<line x1="161.47" y1="159.50" x2="161.47" y2="158.30" stroke="#222" stroke-width="0.6"/>
<line x1="160.47" y1="158.30" x2="162.47" y2="158.30" stroke="#222" stroke-width="0.6"/>
<rect x="164.57" y="158.05" width="4.80" height="46.25" fill="#e3ecf6" stroke="#161616" stroke-width="0.7"/>
<line x1="166.97" y1="157.70" x2="166.97" y2="156.30" stroke="#222" stroke-width="0.6"/>
<line x1="165.97" y1="156.30" x2="167.97" y2="156.30" stroke="#222" stroke-width="0.6"/>
<line x1="161.47" y1="204.30" x2="161.47" y2="206.10" stroke="#333" stroke-width="0.7"/>
<text x="71.15" y="211.60" font-size="4.9" text-anchor="middle" font-weight="bold" fill="#1a1a1a" stroke="#1a1a1a" stroke-width="0.12">0.001</text>
<text x="93.73" y="211.60" font-size="4.9" text-anchor="middle" font-weight="bold" fill="#1a1a1a" stroke="#1a1a1a" stroke-width="0.12">0.01</text>
<text x="116.31" y="211.60" font-size="4.9" text-anchor="middle" font-weight="bold" fill="#1a1a1a" stroke="#1a1a1a" stroke-width="0.12">0.1</text>
<text x="138.89" y="211.60" font-size="4.9" text-anchor="middle" font-weight="bold" fill="#1a1a1a" stroke="#1a1a1a" stroke-width="0.12">1</text>
<text x="161.47" y="211.60" font-size="4.9" text-anchor="middle" font-weight="bold" fill="#1a1a1a" stroke="#1a1a1a" stroke-width="0.12">10</text>
<line x1="64.80" y1="135.40" x2="76.80" y2="135.40" stroke="#505050" stroke-width="1.0"/>
<rect x="70.05" y="131.35" width="1.50" height="1.50" fill="#222"/>
<line x1="87.70" y1="135.40" x2="99.70" y2="135.40" stroke="#505050" stroke-width="1.0"/>
<rect x="91.30" y="131.35" width="1.50" height="1.50" fill="#222"/>
<rect x="94.60" y="131.35" width="1.50" height="1.50" fill="#222"/>
<line x1="110.20" y1="135.40" x2="122.00" y2="135.40" stroke="#505050" stroke-width="1.0"/>
<rect x="113.70" y="131.35" width="1.50" height="1.50" fill="#222"/>
<rect x="117.00" y="131.35" width="1.50" height="1.50" fill="#222"/>
<line x1="132.90" y1="135.40" x2="144.50" y2="135.40" stroke="#505050" stroke-width="1.0"/>
<rect x="136.30" y="131.35" width="1.50" height="1.50" fill="#222"/>
<rect x="139.60" y="131.35" width="1.50" height="1.50" fill="#222"/>
<line x1="155.40" y1="135.40" x2="167.00" y2="135.40" stroke="#505050" stroke-width="1.0"/>
<rect x="160.45" y="131.35" width="1.50" height="1.50" fill="#222"/>
<line x1="64.80" y1="146.60" x2="71.40" y2="146.60" stroke="#505050" stroke-width="1.0"/>
<rect x="67.35" y="142.55" width="1.50" height="1.50" fill="#222"/>
<line x1="87.70" y1="146.60" x2="93.80" y2="146.60" stroke="#505050" stroke-width="1.0"/>
<rect x="88.35" y="142.55" width="1.50" height="1.50" fill="#222"/>
<rect x="91.65" y="142.55" width="1.50" height="1.50" fill="#222"/>
<line x1="110.20" y1="146.60" x2="116.10" y2="146.60" stroke="#505050" stroke-width="1.0"/>
<rect x="110.75" y="142.55" width="1.50" height="1.50" fill="#222"/>
<rect x="114.05" y="142.55" width="1.50" height="1.50" fill="#222"/>
<line x1="132.90" y1="146.60" x2="139.00" y2="146.60" stroke="#505050" stroke-width="1.0"/>
<rect x="133.55" y="142.55" width="1.50" height="1.50" fill="#222"/>
<rect x="136.85" y="142.55" width="1.50" height="1.50" fill="#222"/>
<line x1="155.40" y1="146.60" x2="161.90" y2="146.60" stroke="#505050" stroke-width="1.0"/>
<rect x="157.90" y="142.55" width="1.50" height="1.50" fill="#222"/>
<text x="115.70" y="222.90" font-size="5.9" text-anchor="middle" font-weight="bold" fill="#111" stroke="#111" stroke-width="0.1">MOI</text>
<text x="25.40" y="295.50" font-size="10.3" text-anchor="middle" font-weight="bold" fill="#111" stroke="#111" stroke-width="0.15" transform="rotate(-90 25.40 295.50)">A375</text>
<rect x="30.10" y="263.90" width="2.00" height="65.20" fill="#000"/>
<text x="43.90" y="297.40" font-size="5.6" text-anchor="middle" font-weight="bold" fill="#111" stroke="#111" stroke-width="0.22" transform="rotate(-90 43.90 297.40)">Percent Infection (%)</text>
<line x1="59.50" y1="270.20" x2="59.50" y2="324.50" stroke="#3c3c3c" stroke-width="0.95"/>
<line x1="59.50" y1="324.10" x2="174.00" y2="324.10" stroke="#3c3c3c" stroke-width="0.95"/>
<line x1="57.00" y1="324.10" x2="59.50" y2="324.10" stroke="#2a2a2a" stroke-width="0.85"/>
<text x="56.60" y="325.75" font-size="4.7" text-anchor="end" font-weight="bold" fill="#1a1a1a" stroke="#1a1a1a" stroke-width="0.12">0</text>
<line x1="57.00" y1="297.35" x2="59.50" y2="297.35" stroke="#2a2a2a" stroke-width="0.85"/>
<text x="56.60" y="299.00" font-size="4.7" text-anchor="end" font-weight="bold" fill="#1a1a1a" stroke="#1a1a1a" stroke-width="0.12">50</text>
<line x1="57.00" y1="270.60" x2="59.50" y2="270.60" stroke="#2a2a2a" stroke-width="0.85"/>
<text x="56.60" y="272.25" font-size="4.7" text-anchor="end" font-weight="bold" fill="#1a1a1a" stroke="#1a1a1a" stroke-width="0.12">100</text>
<rect x="64.75" y="292.65" width="8.60" height="31.45" fill="#2b4a6c" stroke="#161616" stroke-width="0.7"/>
<line x1="69.05" y1="292.30" x2="69.05" y2="285.40" stroke="#222" stroke-width="0.6"/>
<line x1="68.05" y1="285.40" x2="70.05" y2="285.40" stroke="#222" stroke-width="0.6"/>
<rect x="74.05" y="323.45" width="8.60" height="0.65" fill="#4682b8" stroke="#161616" stroke-width="0.7"/>
<line x1="78.35" y1="323.10" x2="78.35" y2="322.10" stroke="#222" stroke-width="0.6"/>
<line x1="77.35" y1="322.10" x2="79.35" y2="322.10" stroke="#222" stroke-width="0.6"/>
<rect x="83.35" y="323.55" width="8.60" height="0.55" fill="#e3ecf6" stroke="#161616" stroke-width="0.7"/>
<line x1="87.65" y1="323.20" x2="87.65" y2="322.40" stroke="#222" stroke-width="0.6"/>
<line x1="86.65" y1="322.40" x2="88.65" y2="322.40" stroke="#222" stroke-width="0.6"/>
<line x1="78.35" y1="324.10" x2="78.35" y2="325.90" stroke="#333" stroke-width="0.7"/>
<rect x="103.05" y="273.05" width="8.60" height="51.05" fill="#2b4a6c" stroke="#161616" stroke-width="0.7"/>
<line x1="107.35" y1="272.70" x2="107.35" y2="272.20" stroke="#222" stroke-width="0.6"/>
<line x1="106.35" y1="272.20" x2="108.35" y2="272.20" stroke="#222" stroke-width="0.6"/>
<rect x="112.35" y="307.65" width="8.60" height="16.45" fill="#4682b8" stroke="#161616" stroke-width="0.7"/>
<line x1="116.65" y1="307.30" x2="116.65" y2="303.60" stroke="#222" stroke-width="0.6"/>
<line x1="115.65" y1="303.60" x2="117.65" y2="303.60" stroke="#222" stroke-width="0.6"/>
<rect x="121.65" y="309.25" width="8.60" height="14.85" fill="#e3ecf6" stroke="#161616" stroke-width="0.7"/>
<line x1="125.95" y1="308.90" x2="125.95" y2="306.60" stroke="#222" stroke-width="0.6"/>
<line x1="124.95" y1="306.60" x2="126.95" y2="306.60" stroke="#222" stroke-width="0.6"/>
<line x1="116.65" y1="324.10" x2="116.65" y2="325.90" stroke="#333" stroke-width="0.7"/>
<rect x="141.35" y="272.25" width="8.60" height="51.85" fill="#2b4a6c" stroke="#161616" stroke-width="0.7"/>
<line x1="145.65" y1="271.90" x2="145.65" y2="271.40" stroke="#222" stroke-width="0.6"/>
<line x1="144.65" y1="271.40" x2="146.65" y2="271.40" stroke="#222" stroke-width="0.6"/>
<rect x="150.65" y="275.75" width="8.60" height="48.35" fill="#4682b8" stroke="#161616" stroke-width="0.7"/>
<line x1="154.95" y1="275.40" x2="154.95" y2="274.10" stroke="#222" stroke-width="0.6"/>
<line x1="153.95" y1="274.10" x2="155.95" y2="274.10" stroke="#222" stroke-width="0.6"/>
<rect x="159.95" y="278.45" width="8.60" height="45.65" fill="#e3ecf6" stroke="#161616" stroke-width="0.7"/>
<line x1="164.25" y1="278.10" x2="164.25" y2="275.90" stroke="#222" stroke-width="0.6"/>
<line x1="163.25" y1="275.90" x2="165.25" y2="275.90" stroke="#222" stroke-width="0.6"/>
<line x1="154.95" y1="324.10" x2="154.95" y2="325.90" stroke="#333" stroke-width="0.7"/>
<text x="78.35" y="331.40" font-size="4.9" text-anchor="middle" font-weight="bold" fill="#1a1a1a" stroke="#1a1a1a" stroke-width="0.12">0.001</text>
<text x="116.65" y="331.40" font-size="4.9" text-anchor="middle" font-weight="bold" fill="#1a1a1a" stroke="#1a1a1a" stroke-width="0.12">0.01</text>
<text x="154.95" y="331.40" font-size="4.9" text-anchor="middle" font-weight="bold" fill="#1a1a1a" stroke="#1a1a1a" stroke-width="0.12">0.1</text>
<line x1="69.80" y1="254.10" x2="88.20" y2="254.10" stroke="#505050" stroke-width="1.0"/>
<rect x="76.60" y="250.05" width="1.50" height="1.50" fill="#222"/>
<rect x="79.90" y="250.05" width="1.50" height="1.50" fill="#222"/>
<line x1="107.80" y1="254.10" x2="125.90" y2="254.10" stroke="#505050" stroke-width="1.0"/>
<rect x="112.80" y="250.05" width="1.50" height="1.50" fill="#222"/>
<rect x="116.10" y="250.05" width="1.50" height="1.50" fill="#222"/>
<rect x="119.40" y="250.05" width="1.50" height="1.50" fill="#222"/>
<line x1="145.60" y1="254.10" x2="164.10" y2="254.10" stroke="#505050" stroke-width="1.0"/>
<rect x="152.45" y="250.05" width="1.50" height="1.50" fill="#222"/>
<rect x="155.75" y="250.05" width="1.50" height="1.50" fill="#222"/>
<line x1="69.20" y1="265.50" x2="78.60" y2="265.50" stroke="#505050" stroke-width="1.0"/>
<rect x="71.50" y="261.45" width="1.50" height="1.50" fill="#222"/>
<rect x="74.80" y="261.45" width="1.50" height="1.50" fill="#222"/>
<line x1="107.80" y1="265.50" x2="116.80" y2="265.50" stroke="#505050" stroke-width="1.0"/>
<rect x="108.25" y="261.45" width="1.50" height="1.50" fill="#222"/>
<rect x="111.55" y="261.45" width="1.50" height="1.50" fill="#222"/>
<rect x="114.85" y="261.45" width="1.50" height="1.50" fill="#222"/>
<line x1="146.20" y1="265.50" x2="155.40" y2="265.50" stroke="#505050" stroke-width="1.0"/>
<rect x="148.40" y="261.45" width="1.50" height="1.50" fill="#222"/>
<rect x="151.70" y="261.45" width="1.50" height="1.50" fill="#222"/>
<text x="116.40" y="341.70" font-size="5.9" text-anchor="middle" font-weight="bold" fill="#111" stroke="#111" stroke-width="0.1">MOI</text>
<text x="210.30" y="177.50" font-size="5.9" text-anchor="middle" font-weight="bold" fill="#111" stroke="#111" stroke-width="0.22" transform="rotate(-90 210.30 177.50)">VSV&#916;51 Titer</text>
<text x="216.40" y="178.20" font-size="5.9" text-anchor="middle" font-weight="bold" fill="#111" stroke="#111" stroke-width="0.22" transform="rotate(-90 216.40 178.20)">(log<tspan font-size='3.6' dy='1'>10</tspan><tspan dy='-1'> PFU/mL)</tspan></text>
<line x1="230.10" y1="150.90" x2="230.10" y2="204.80" stroke="#3c3c3c" stroke-width="0.95"/>
<line x1="230.10" y1="204.40" x2="343.50" y2="204.40" stroke="#3c3c3c" stroke-width="0.95"/>
<line x1="227.60" y1="204.40" x2="230.10" y2="204.40" stroke="#2a2a2a" stroke-width="0.85"/>
<text x="227.20" y="206.05" font-size="4.7" text-anchor="end" font-weight="bold" fill="#1a1a1a" stroke="#1a1a1a" stroke-width="0.12">1</text>
<line x1="227.60" y1="151.30" x2="230.10" y2="151.30" stroke="#2a2a2a" stroke-width="0.85"/>
<text x="227.20" y="152.95" font-size="4.7" text-anchor="end" font-weight="bold" fill="#1a1a1a" stroke="#1a1a1a" stroke-width="0.12">10</text>
<line x1="228.60" y1="188.42" x2="230.10" y2="188.42" stroke="#444" stroke-width="0.6"/>
<line x1="228.60" y1="179.06" x2="230.10" y2="179.06" stroke="#444" stroke-width="0.6"/>
<line x1="228.60" y1="172.43" x2="230.10" y2="172.43" stroke="#444" stroke-width="0.6"/>
<line x1="228.60" y1="167.28" x2="230.10" y2="167.28" stroke="#444" stroke-width="0.6"/>
<line x1="228.60" y1="163.08" x2="230.10" y2="163.08" stroke="#444" stroke-width="0.6"/>
<line x1="228.60" y1="159.53" x2="230.10" y2="159.53" stroke="#444" stroke-width="0.6"/>
<line x1="228.60" y1="156.45" x2="230.10" y2="156.45" stroke="#444" stroke-width="0.6"/>
<line x1="228.60" y1="153.73" x2="230.10" y2="153.73" stroke="#444" stroke-width="0.6"/>
<rect x="232.85" y="159.75" width="4.90" height="44.65" fill="#2b4a6c" stroke="#161616" stroke-width="0.7"/>
<line x1="235.30" y1="159.40" x2="235.30" y2="158.60" stroke="#222" stroke-width="0.6"/>
<line x1="234.30" y1="158.60" x2="236.30" y2="158.60" stroke="#222" stroke-width="0.6"/>
<rect x="238.45" y="164.85" width="4.90" height="39.55" fill="#4682b8" stroke="#161616" stroke-width="0.7"/>
<line x1="240.90" y1="164.50" x2="240.90" y2="163.70" stroke="#222" stroke-width="0.6"/>
<line x1="239.90" y1="163.70" x2="241.90" y2="163.70" stroke="#222" stroke-width="0.6"/>
<rect x="244.05" y="166.05" width="4.90" height="38.35" fill="#f6f9fd" stroke="#161616" stroke-width="0.7"/>
<line x1="246.50" y1="165.70" x2="246.50" y2="164.90" stroke="#222" stroke-width="0.6"/>
<line x1="245.50" y1="164.90" x2="247.50" y2="164.90" stroke="#222" stroke-width="0.6"/>
<line x1="240.90" y1="204.40" x2="240.90" y2="206.20" stroke="#333" stroke-width="0.7"/>
<rect x="255.80" y="156.85" width="4.90" height="47.55" fill="#2b4a6c" stroke="#161616" stroke-width="0.7"/>
<line x1="258.25" y1="156.50" x2="258.25" y2="156.00" stroke="#222" stroke-width="0.6"/>
<line x1="257.25" y1="156.00" x2="259.25" y2="156.00" stroke="#222" stroke-width="0.6"/>
<rect x="261.40" y="162.45" width="4.90" height="41.95" fill="#4682b8" stroke="#161616" stroke-width="0.7"/>
<line x1="263.85" y1="162.10" x2="263.85" y2="161.60" stroke="#222" stroke-width="0.6"/>
<line x1="262.85" y1="161.60" x2="264.85" y2="161.60" stroke="#222" stroke-width="0.6"/>
<rect x="267.00" y="162.45" width="4.90" height="41.95" fill="#f6f9fd" stroke="#161616" stroke-width="0.7"/>
<line x1="269.45" y1="162.10" x2="269.45" y2="160.80" stroke="#222" stroke-width="0.6"/>
<line x1="268.45" y1="160.80" x2="270.45" y2="160.80" stroke="#222" stroke-width="0.6"/>
<line x1="263.85" y1="204.40" x2="263.85" y2="206.20" stroke="#333" stroke-width="0.7"/>
<rect x="278.75" y="156.15" width="4.90" height="48.25" fill="#2b4a6c" stroke="#161616" stroke-width="0.7"/>
<line x1="281.20" y1="155.80" x2="281.20" y2="155.30" stroke="#222" stroke-width="0.6"/>
<line x1="280.20" y1="155.30" x2="282.20" y2="155.30" stroke="#222" stroke-width="0.6"/>
<rect x="284.35" y="160.85" width="4.90" height="43.55" fill="#4682b8" stroke="#161616" stroke-width="0.7"/>
<line x1="286.80" y1="160.50" x2="286.80" y2="160.00" stroke="#222" stroke-width="0.6"/>
<line x1="285.80" y1="160.00" x2="287.80" y2="160.00" stroke="#222" stroke-width="0.6"/>
<rect x="289.95" y="161.35" width="4.90" height="43.05" fill="#f6f9fd" stroke="#161616" stroke-width="0.7"/>
<line x1="292.40" y1="161.00" x2="292.40" y2="159.60" stroke="#222" stroke-width="0.6"/>
<line x1="291.40" y1="159.60" x2="293.40" y2="159.60" stroke="#222" stroke-width="0.6"/>
<line x1="286.80" y1="204.40" x2="286.80" y2="206.20" stroke="#333" stroke-width="0.7"/>
<rect x="301.70" y="155.65" width="4.90" height="48.75" fill="#2b4a6c" stroke="#161616" stroke-width="0.7"/>
<line x1="304.15" y1="155.30" x2="304.15" y2="154.80" stroke="#222" stroke-width="0.6"/>
<line x1="303.15" y1="154.80" x2="305.15" y2="154.80" stroke="#222" stroke-width="0.6"/>
<rect x="307.30" y="158.75" width="4.90" height="45.65" fill="#4682b8" stroke="#161616" stroke-width="0.7"/>
<line x1="309.75" y1="158.40" x2="309.75" y2="156.70" stroke="#222" stroke-width="0.6"/>
<line x1="308.75" y1="156.70" x2="310.75" y2="156.70" stroke="#222" stroke-width="0.6"/>
<rect x="312.90" y="159.65" width="4.90" height="44.75" fill="#f6f9fd" stroke="#161616" stroke-width="0.7"/>
<line x1="315.35" y1="159.30" x2="315.35" y2="158.80" stroke="#222" stroke-width="0.6"/>
<line x1="314.35" y1="158.80" x2="316.35" y2="158.80" stroke="#222" stroke-width="0.6"/>
<line x1="309.75" y1="204.40" x2="309.75" y2="206.20" stroke="#333" stroke-width="0.7"/>
<rect x="324.65" y="155.65" width="4.90" height="48.75" fill="#2b4a6c" stroke="#161616" stroke-width="0.7"/>
<line x1="327.10" y1="155.30" x2="327.10" y2="154.80" stroke="#222" stroke-width="0.6"/>
<line x1="326.10" y1="154.80" x2="328.10" y2="154.80" stroke="#222" stroke-width="0.6"/>
<rect x="330.25" y="157.85" width="4.90" height="46.55" fill="#4682b8" stroke="#161616" stroke-width="0.7"/>
<line x1="332.70" y1="157.50" x2="332.70" y2="155.80" stroke="#222" stroke-width="0.6"/>
<line x1="331.70" y1="155.80" x2="333.70" y2="155.80" stroke="#222" stroke-width="0.6"/>
<rect x="335.85" y="158.45" width="4.90" height="45.95" fill="#f6f9fd" stroke="#161616" stroke-width="0.7"/>
<line x1="338.30" y1="158.10" x2="338.30" y2="156.30" stroke="#222" stroke-width="0.6"/>
<line x1="337.30" y1="156.30" x2="339.30" y2="156.30" stroke="#222" stroke-width="0.6"/>
<line x1="332.70" y1="204.40" x2="332.70" y2="206.20" stroke="#333" stroke-width="0.7"/>
<text x="240.90" y="211.80" font-size="4.9" text-anchor="middle" font-weight="bold" fill="#1a1a1a" stroke="#1a1a1a" stroke-width="0.12">0.001</text>
<text x="263.85" y="211.80" font-size="4.9" text-anchor="middle" font-weight="bold" fill="#1a1a1a" stroke="#1a1a1a" stroke-width="0.12">0.01</text>
<text x="286.80" y="211.80" font-size="4.9" text-anchor="middle" font-weight="bold" fill="#1a1a1a" stroke="#1a1a1a" stroke-width="0.12">0.1</text>
<text x="309.75" y="211.80" font-size="4.9" text-anchor="middle" font-weight="bold" fill="#1a1a1a" stroke="#1a1a1a" stroke-width="0.12">1</text>
<text x="332.70" y="211.80" font-size="4.9" text-anchor="middle" font-weight="bold" fill="#1a1a1a" stroke="#1a1a1a" stroke-width="0.12">10</text>
<line x1="235.30" y1="136.80" x2="246.80" y2="136.80" stroke="#505050" stroke-width="1.0"/>
<rect x="240.30" y="132.75" width="1.50" height="1.50" fill="#222"/>
<line x1="257.70" y1="136.80" x2="269.70" y2="136.80" stroke="#505050" stroke-width="1.0"/>
<rect x="262.95" y="132.75" width="1.50" height="1.50" fill="#222"/>
<line x1="280.60" y1="136.80" x2="292.60" y2="136.80" stroke="#505050" stroke-width="1.0"/>
<rect x="285.85" y="132.75" width="1.50" height="1.50" fill="#222"/>
<line x1="303.60" y1="136.80" x2="315.60" y2="136.80" stroke="#505050" stroke-width="1.0"/>
<rect x="308.85" y="132.75" width="1.50" height="1.50" fill="#222"/>
<line x1="326.50" y1="136.80" x2="338.00" y2="136.80" stroke="#505050" stroke-width="1.0"/>
<text x="332.25" y="134.80" font-size="5.2" text-anchor="middle" font-weight="bold" fill="#333" stroke="#333" stroke-width="0.05" textLength="4.3" lengthAdjust="spacingAndGlyphs">ns</text>
<line x1="235.30" y1="148.30" x2="241.40" y2="148.30" stroke="#505050" stroke-width="1.0"/>
<rect x="237.60" y="144.25" width="1.50" height="1.50" fill="#222"/>
<line x1="257.70" y1="148.30" x2="263.80" y2="148.30" stroke="#505050" stroke-width="1.0"/>
<rect x="258.35" y="144.25" width="1.50" height="1.50" fill="#222"/>
<rect x="261.65" y="144.25" width="1.50" height="1.50" fill="#222"/>
<line x1="280.60" y1="148.30" x2="286.50" y2="148.30" stroke="#505050" stroke-width="1.0"/>
<rect x="282.80" y="144.25" width="1.50" height="1.50" fill="#222"/>
<line x1="303.60" y1="148.30" x2="309.70" y2="148.30" stroke="#505050" stroke-width="1.0"/>
<text x="306.65" y="146.30" font-size="5.2" text-anchor="middle" font-weight="bold" fill="#333" stroke="#333" stroke-width="0.05" textLength="4.3" lengthAdjust="spacingAndGlyphs">ns</text>
<line x1="326.50" y1="148.30" x2="332.40" y2="148.30" stroke="#505050" stroke-width="1.0"/>
<text x="329.45" y="146.30" font-size="5.2" text-anchor="middle" font-weight="bold" fill="#333" stroke="#333" stroke-width="0.05" textLength="4.3" lengthAdjust="spacingAndGlyphs">ns</text>
<text x="286.50" y="221.60" font-size="5.9" text-anchor="middle" font-weight="bold" fill="#111" stroke="#111" stroke-width="0.1">MOI</text>
<text x="210.80" y="297.50" font-size="5.9" text-anchor="middle" font-weight="bold" fill="#111" stroke="#111" stroke-width="0.22" transform="rotate(-90 210.80 297.50)">VSV&#916;51 Titer</text>
<text x="216.90" y="298.20" font-size="5.9" text-anchor="middle" font-weight="bold" fill="#111" stroke="#111" stroke-width="0.22" transform="rotate(-90 216.90 298.20)">(log<tspan font-size='3.6' dy='1'>10</tspan><tspan dy='-1'> PFU/mL)</tspan></text>
<line x1="230.50" y1="271.90" x2="230.50" y2="325.70" stroke="#3c3c3c" stroke-width="0.95"/>
<line x1="230.50" y1="325.30" x2="343.50" y2="325.30" stroke="#3c3c3c" stroke-width="0.95"/>
<line x1="228.00" y1="325.30" x2="230.50" y2="325.30" stroke="#2a2a2a" stroke-width="0.85"/>
<text x="227.60" y="326.95" font-size="4.7" text-anchor="end" font-weight="bold" fill="#1a1a1a" stroke="#1a1a1a" stroke-width="0.12">1</text>
<line x1="228.00" y1="272.30" x2="230.50" y2="272.30" stroke="#2a2a2a" stroke-width="0.85"/>
<text x="227.60" y="273.95" font-size="4.7" text-anchor="end" font-weight="bold" fill="#1a1a1a" stroke="#1a1a1a" stroke-width="0.12">10</text>
<line x1="229.00" y1="309.35" x2="230.50" y2="309.35" stroke="#444" stroke-width="0.6"/>
<line x1="229.00" y1="300.01" x2="230.50" y2="300.01" stroke="#444" stroke-width="0.6"/>
<line x1="229.00" y1="293.39" x2="230.50" y2="293.39" stroke="#444" stroke-width="0.6"/>
<line x1="229.00" y1="288.25" x2="230.50" y2="288.25" stroke="#444" stroke-width="0.6"/>
<line x1="229.00" y1="284.06" x2="230.50" y2="284.06" stroke="#444" stroke-width="0.6"/>
<line x1="229.00" y1="280.51" x2="230.50" y2="280.51" stroke="#444" stroke-width="0.6"/>
<line x1="229.00" y1="277.44" x2="230.50" y2="277.44" stroke="#444" stroke-width="0.6"/>
<line x1="229.00" y1="274.73" x2="230.50" y2="274.73" stroke="#444" stroke-width="0.6"/>
<rect x="235.65" y="277.55" width="8.60" height="47.75" fill="#2b4a6c" stroke="#161616" stroke-width="0.7"/>
<line x1="239.95" y1="277.20" x2="239.95" y2="276.70" stroke="#222" stroke-width="0.6"/>
<line x1="238.95" y1="276.70" x2="240.95" y2="276.70" stroke="#222" stroke-width="0.6"/>
<rect x="244.95" y="285.75" width="8.60" height="39.55" fill="#4682b8" stroke="#161616" stroke-width="0.7"/>
<line x1="249.25" y1="285.40" x2="249.25" y2="282.40" stroke="#222" stroke-width="0.6"/>
<line x1="248.25" y1="282.40" x2="250.25" y2="282.40" stroke="#222" stroke-width="0.6"/>
<rect x="254.25" y="284.45" width="8.60" height="40.85" fill="#e3ecf6" stroke="#161616" stroke-width="0.7"/>
<line x1="258.55" y1="284.10" x2="258.55" y2="283.10" stroke="#222" stroke-width="0.6"/>
<line x1="257.55" y1="283.10" x2="259.55" y2="283.10" stroke="#222" stroke-width="0.6"/>
<line x1="249.25" y1="325.30" x2="249.25" y2="327.10" stroke="#333" stroke-width="0.7"/>
<rect x="273.65" y="274.05" width="8.60" height="51.25" fill="#2b4a6c" stroke="#161616" stroke-width="0.7"/>
<line x1="277.95" y1="273.70" x2="277.95" y2="273.20" stroke="#222" stroke-width="0.6"/>
<line x1="276.95" y1="273.20" x2="278.95" y2="273.20" stroke="#222" stroke-width="0.6"/>
<rect x="282.95" y="278.45" width="8.60" height="46.85" fill="#4682b8" stroke="#161616" stroke-width="0.7"/>
<line x1="287.25" y1="278.10" x2="287.25" y2="276.80" stroke="#222" stroke-width="0.6"/>
<line x1="286.25" y1="276.80" x2="288.25" y2="276.80" stroke="#222" stroke-width="0.6"/>
<rect x="292.25" y="278.65" width="8.60" height="46.65" fill="#e3ecf6" stroke="#161616" stroke-width="0.7"/>
<line x1="296.55" y1="278.30" x2="296.55" y2="276.80" stroke="#222" stroke-width="0.6"/>
<line x1="295.55" y1="276.80" x2="297.55" y2="276.80" stroke="#222" stroke-width="0.6"/>
<line x1="287.25" y1="325.30" x2="287.25" y2="327.10" stroke="#333" stroke-width="0.7"/>
<rect x="311.65" y="273.55" width="8.60" height="51.75" fill="#2b4a6c" stroke="#161616" stroke-width="0.7"/>
<line x1="315.95" y1="273.20" x2="315.95" y2="272.90" stroke="#222" stroke-width="0.6"/>
<line x1="314.95" y1="272.90" x2="316.95" y2="272.90" stroke="#222" stroke-width="0.6"/>
<rect x="320.95" y="274.45" width="8.60" height="50.85" fill="#4682b8" stroke="#161616" stroke-width="0.7"/>
<line x1="325.25" y1="274.10" x2="325.25" y2="273.60" stroke="#222" stroke-width="0.6"/>
<line x1="324.25" y1="273.60" x2="326.25" y2="273.60" stroke="#222" stroke-width="0.6"/>
<rect x="330.25" y="273.15" width="8.60" height="52.15" fill="#e3ecf6" stroke="#161616" stroke-width="0.7"/>
<line x1="334.55" y1="272.80" x2="334.55" y2="272.50" stroke="#222" stroke-width="0.6"/>
<line x1="333.55" y1="272.50" x2="335.55" y2="272.50" stroke="#222" stroke-width="0.6"/>
<line x1="325.25" y1="325.30" x2="325.25" y2="327.10" stroke="#333" stroke-width="0.7"/>
<text x="249.25" y="332.00" font-size="4.9" text-anchor="middle" font-weight="bold" fill="#1a1a1a" stroke="#1a1a1a" stroke-width="0.12">0.001</text>
<text x="287.25" y="332.00" font-size="4.9" text-anchor="middle" font-weight="bold" fill="#1a1a1a" stroke="#1a1a1a" stroke-width="0.12">0.01</text>
<text x="325.25" y="332.00" font-size="4.9" text-anchor="middle" font-weight="bold" fill="#1a1a1a" stroke="#1a1a1a" stroke-width="0.12">0.1</text>
<line x1="239.50" y1="253.80" x2="258.40" y2="253.80" stroke="#505050" stroke-width="1.0"/>
<rect x="246.55" y="249.75" width="1.50" height="1.50" fill="#222"/>
<rect x="249.85" y="249.75" width="1.50" height="1.50" fill="#222"/>
<line x1="277.30" y1="253.80" x2="297.00" y2="253.80" stroke="#505050" stroke-width="1.0"/>
<rect x="284.75" y="249.75" width="1.50" height="1.50" fill="#222"/>
<rect x="288.05" y="249.75" width="1.50" height="1.50" fill="#222"/>
<line x1="315.90" y1="253.80" x2="334.80" y2="253.80" stroke="#505050" stroke-width="1.0"/>
<text x="325.35" y="251.80" font-size="5.2" text-anchor="middle" font-weight="bold" fill="#333" stroke="#333" stroke-width="0.05" textLength="4.3" lengthAdjust="spacingAndGlyphs">ns</text>
<line x1="239.50" y1="265.50" x2="249.80" y2="265.50" stroke="#505050" stroke-width="1.0"/>
<rect x="243.90" y="261.45" width="1.50" height="1.50" fill="#222"/>
<line x1="277.30" y1="265.50" x2="287.60" y2="265.50" stroke="#505050" stroke-width="1.0"/>
<rect x="280.05" y="261.45" width="1.50" height="1.50" fill="#222"/>
<rect x="283.35" y="261.45" width="1.50" height="1.50" fill="#222"/>
<line x1="315.00" y1="265.50" x2="325.30" y2="265.50" stroke="#505050" stroke-width="1.0"/>
<text x="320.15" y="263.50" font-size="5.2" text-anchor="middle" font-weight="bold" fill="#333" stroke="#333" stroke-width="0.05" textLength="4.3" lengthAdjust="spacingAndGlyphs">ns</text>
<text x="287.00" y="341.90" font-size="5.9" text-anchor="middle" font-weight="bold" fill="#111" stroke="#111" stroke-width="0.1">MOI</text>
<text x="375.60" y="176.30" font-size="6.1" text-anchor="middle" font-weight="bold" fill="#111" stroke="#111" stroke-width="0.22" transform="rotate(-90 375.60 176.30)">Viability (%)</text>
<line x1="388.70" y1="150.50" x2="388.70" y2="204.70" stroke="#3c3c3c" stroke-width="0.95"/>
<line x1="388.70" y1="204.30" x2="505.30" y2="204.30" stroke="#3c3c3c" stroke-width="0.95"/>
<line x1="386.20" y1="204.30" x2="388.70" y2="204.30" stroke="#2a2a2a" stroke-width="0.85"/>
<text x="385.80" y="205.95" font-size="4.7" text-anchor="end" font-weight="bold" fill="#1a1a1a" stroke="#1a1a1a" stroke-width="0.12">0</text>
<line x1="386.20" y1="177.60" x2="388.70" y2="177.60" stroke="#2a2a2a" stroke-width="0.85"/>
<text x="385.80" y="179.25" font-size="4.7" text-anchor="end" font-weight="bold" fill="#1a1a1a" stroke="#1a1a1a" stroke-width="0.12">50</text>
<line x1="386.20" y1="150.90" x2="388.70" y2="150.90" stroke="#2a2a2a" stroke-width="0.85"/>
<text x="385.80" y="152.55" font-size="4.7" text-anchor="end" font-weight="bold" fill="#1a1a1a" stroke="#1a1a1a" stroke-width="0.12">100</text>
<rect x="393.85" y="151.45" width="4.90" height="52.85" fill="#2b4a6c" stroke="#161616" stroke-width="0.7"/>
<rect x="399.45" y="151.45" width="4.90" height="52.85" fill="#4682b8" stroke="#161616" stroke-width="0.7"/>
<rect x="405.05" y="151.45" width="4.90" height="52.85" fill="#f6f9fd" stroke="#161616" stroke-width="0.7"/>
<line x1="401.90" y1="204.30" x2="401.90" y2="206.10" stroke="#333" stroke-width="0.7"/>
<rect x="416.73" y="159.65" width="4.90" height="44.65" fill="#2b4a6c" stroke="#161616" stroke-width="0.7"/>
<line x1="419.18" y1="159.30" x2="419.18" y2="158.30" stroke="#222" stroke-width="0.6"/>
<line x1="418.18" y1="158.30" x2="420.18" y2="158.30" stroke="#222" stroke-width="0.6"/>
<rect x="422.33" y="154.45" width="4.90" height="49.85" fill="#4682b8" stroke="#161616" stroke-width="0.7"/>
<line x1="424.78" y1="154.10" x2="424.78" y2="153.40" stroke="#222" stroke-width="0.6"/>
<line x1="423.78" y1="153.40" x2="425.78" y2="153.40" stroke="#222" stroke-width="0.6"/>
<rect x="427.93" y="155.85" width="4.90" height="48.45" fill="#f6f9fd" stroke="#161616" stroke-width="0.7"/>
<line x1="430.38" y1="155.50" x2="430.38" y2="154.80" stroke="#222" stroke-width="0.6"/>
<line x1="429.38" y1="154.80" x2="431.38" y2="154.80" stroke="#222" stroke-width="0.6"/>
<line x1="424.77" y1="204.30" x2="424.77" y2="206.10" stroke="#333" stroke-width="0.7"/>
<rect x="439.60" y="163.65" width="4.90" height="40.65" fill="#2b4a6c" stroke="#161616" stroke-width="0.7"/>
<line x1="442.05" y1="163.30" x2="442.05" y2="162.20" stroke="#222" stroke-width="0.6"/>
<line x1="441.05" y1="162.20" x2="443.05" y2="162.20" stroke="#222" stroke-width="0.6"/>
<rect x="445.20" y="157.55" width="4.90" height="46.75" fill="#4682b8" stroke="#161616" stroke-width="0.7"/>
<line x1="447.65" y1="157.20" x2="447.65" y2="156.70" stroke="#222" stroke-width="0.6"/>
<line x1="446.65" y1="156.70" x2="448.65" y2="156.70" stroke="#222" stroke-width="0.6"/>
<rect x="450.80" y="155.85" width="4.90" height="48.45" fill="#f6f9fd" stroke="#161616" stroke-width="0.7"/>
<line x1="453.25" y1="155.50" x2="453.25" y2="154.10" stroke="#222" stroke-width="0.6"/>
<line x1="452.25" y1="154.10" x2="454.25" y2="154.10" stroke="#222" stroke-width="0.6"/>
<line x1="447.65" y1="204.30" x2="447.65" y2="206.10" stroke="#333" stroke-width="0.7"/>
<rect x="462.48" y="176.45" width="4.90" height="27.85" fill="#2b4a6c" stroke="#161616" stroke-width="0.7"/>
<line x1="464.93" y1="176.10" x2="464.93" y2="174.90" stroke="#222" stroke-width="0.6"/>
<line x1="463.93" y1="174.90" x2="465.93" y2="174.90" stroke="#222" stroke-width="0.6"/>
<rect x="468.08" y="163.45" width="4.90" height="40.85" fill="#4682b8" stroke="#161616" stroke-width="0.7"/>
<line x1="470.53" y1="163.10" x2="470.53" y2="161.00" stroke="#222" stroke-width="0.6"/>
<line x1="469.53" y1="161.00" x2="471.53" y2="161.00" stroke="#222" stroke-width="0.6"/>
<rect x="473.68" y="163.65" width="4.90" height="40.65" fill="#f6f9fd" stroke="#161616" stroke-width="0.7"/>
<line x1="476.12" y1="163.30" x2="476.12" y2="161.00" stroke="#222" stroke-width="0.6"/>
<line x1="475.12" y1="161.00" x2="477.12" y2="161.00" stroke="#222" stroke-width="0.6"/>
<line x1="470.52" y1="204.30" x2="470.52" y2="206.10" stroke="#333" stroke-width="0.7"/>
<rect x="485.35" y="183.55" width="4.90" height="20.75" fill="#2b4a6c" stroke="#161616" stroke-width="0.7"/>
<line x1="487.80" y1="183.20" x2="487.80" y2="181.90" stroke="#222" stroke-width="0.6"/>
<line x1="486.80" y1="181.90" x2="488.80" y2="181.90" stroke="#222" stroke-width="0.6"/>
<rect x="490.95" y="170.55" width="4.90" height="33.75" fill="#4682b8" stroke="#161616" stroke-width="0.7"/>
<line x1="493.40" y1="170.20" x2="493.40" y2="168.80" stroke="#222" stroke-width="0.6"/>
<line x1="492.40" y1="168.80" x2="494.40" y2="168.80" stroke="#222" stroke-width="0.6"/>
<rect x="496.55" y="171.25" width="4.90" height="33.05" fill="#f6f9fd" stroke="#161616" stroke-width="0.7"/>
<line x1="499.00" y1="170.90" x2="499.00" y2="169.70" stroke="#222" stroke-width="0.6"/>
<line x1="498.00" y1="169.70" x2="500.00" y2="169.70" stroke="#222" stroke-width="0.6"/>
<line x1="493.40" y1="204.30" x2="493.40" y2="206.10" stroke="#333" stroke-width="0.7"/>
<text x="401.30" y="211.60" font-size="4.9" text-anchor="middle" font-weight="bold" fill="#1a1a1a" stroke="#1a1a1a" stroke-width="0.12">0</text>
<text x="424.18" y="211.60" font-size="4.9" text-anchor="middle" font-weight="bold" fill="#1a1a1a" stroke="#1a1a1a" stroke-width="0.12">0.001</text>
<text x="447.05" y="211.60" font-size="4.9" text-anchor="middle" font-weight="bold" fill="#1a1a1a" stroke="#1a1a1a" stroke-width="0.12">0.01</text>
<text x="469.93" y="211.60" font-size="4.9" text-anchor="middle" font-weight="bold" fill="#1a1a1a" stroke="#1a1a1a" stroke-width="0.12">0.1</text>
<text x="492.80" y="211.60" font-size="4.9" text-anchor="middle" font-weight="bold" fill="#1a1a1a" stroke="#1a1a1a" stroke-width="0.12">1</text>
<line x1="419.10" y1="133.50" x2="430.50" y2="133.50" stroke="#505050" stroke-width="1.0"/>
<rect x="424.05" y="129.45" width="1.50" height="1.50" fill="#222"/>
<line x1="441.80" y1="133.50" x2="453.60" y2="133.50" stroke="#505050" stroke-width="1.0"/>
<rect x="445.30" y="129.45" width="1.50" height="1.50" fill="#222"/>
<rect x="448.60" y="129.45" width="1.50" height="1.50" fill="#222"/>
<line x1="464.50" y1="133.50" x2="476.40" y2="133.50" stroke="#505050" stroke-width="1.0"/>
<rect x="468.05" y="129.45" width="1.50" height="1.50" fill="#222"/>
<rect x="471.35" y="129.45" width="1.50" height="1.50" fill="#222"/>
<line x1="487.80" y1="133.50" x2="499.10" y2="133.50" stroke="#505050" stroke-width="1.0"/>
<rect x="489.40" y="129.45" width="1.50" height="1.50" fill="#222"/>
<rect x="492.70" y="129.45" width="1.50" height="1.50" fill="#222"/>
<rect x="496.00" y="129.45" width="1.50" height="1.50" fill="#222"/>
<line x1="419.10" y1="144.90" x2="424.20" y2="144.90" stroke="#505050" stroke-width="1.0"/>
<rect x="420.90" y="140.85" width="1.50" height="1.50" fill="#222"/>
<line x1="441.80" y1="144.90" x2="447.30" y2="144.90" stroke="#505050" stroke-width="1.0"/>
<rect x="442.15" y="140.85" width="1.50" height="1.50" fill="#222"/>
<rect x="445.45" y="140.85" width="1.50" height="1.50" fill="#222"/>
<line x1="464.50" y1="144.90" x2="470.40" y2="144.90" stroke="#505050" stroke-width="1.0"/>
<rect x="465.05" y="140.85" width="1.50" height="1.50" fill="#222"/>
<rect x="468.35" y="140.85" width="1.50" height="1.50" fill="#222"/>
<line x1="487.80" y1="144.90" x2="493.30" y2="144.90" stroke="#505050" stroke-width="1.0"/>
<rect x="488.15" y="140.85" width="1.50" height="1.50" fill="#222"/>
<rect x="491.45" y="140.85" width="1.50" height="1.50" fill="#222"/>
<text x="447.80" y="222.70" font-size="5.9" text-anchor="middle" font-weight="bold" fill="#111" stroke="#111" stroke-width="0.1">MOI</text>
<rect x="508.90" y="146.35" width="4.80" height="2.90" fill="#2b4a6c" stroke="#161616" stroke-width="0.75"/>
<text x="517.60" y="149.55" font-size="5.0" text-anchor="start" font-weight="bold" fill="#111" stroke="#111" stroke-width="0.3">sgNTC</text>
<rect x="508.90" y="153.20" width="4.80" height="2.90" fill="#4682b8" stroke="#161616" stroke-width="0.75"/>
<text x="517.60" y="156.40" font-size="5.0" text-anchor="start" font-weight="bold" fill="#111" stroke="#111" stroke-width="0.3">sgSOX10-1</text>
<rect x="508.90" y="160.05" width="4.80" height="2.90" fill="#f6f9fd" stroke="#161616" stroke-width="0.75"/>
<text x="517.60" y="163.25" font-size="5.0" text-anchor="start" font-weight="bold" fill="#111" stroke="#111" stroke-width="0.3">sgSOX10-2</text>
<text x="375.60" y="296.30" font-size="6.1" text-anchor="middle" font-weight="bold" fill="#111" stroke="#111" stroke-width="0.22" transform="rotate(-90 375.60 296.30)">Viability (%)</text>
<line x1="388.80" y1="271.30" x2="388.80" y2="325.60" stroke="#3c3c3c" stroke-width="0.95"/>
<line x1="388.80" y1="325.20" x2="504.80" y2="325.20" stroke="#3c3c3c" stroke-width="0.95"/>
<line x1="386.30" y1="325.20" x2="388.80" y2="325.20" stroke="#2a2a2a" stroke-width="0.85"/>
<text x="385.90" y="326.85" font-size="4.7" text-anchor="end" font-weight="bold" fill="#1a1a1a" stroke="#1a1a1a" stroke-width="0.12">0</text>
<line x1="386.30" y1="298.45" x2="388.80" y2="298.45" stroke="#2a2a2a" stroke-width="0.85"/>
<text x="385.90" y="300.10" font-size="4.7" text-anchor="end" font-weight="bold" fill="#1a1a1a" stroke="#1a1a1a" stroke-width="0.12">50</text>
<line x1="386.30" y1="271.70" x2="388.80" y2="271.70" stroke="#2a2a2a" stroke-width="0.85"/>
<text x="385.90" y="273.35" font-size="4.7" text-anchor="end" font-weight="bold" fill="#1a1a1a" stroke="#1a1a1a" stroke-width="0.12">100</text>
<rect x="394.65" y="272.65" width="6.25" height="52.55" fill="#2b4a6c" stroke="#161616" stroke-width="0.7"/>
<rect x="401.60" y="272.65" width="6.25" height="52.55" fill="#4682b8" stroke="#161616" stroke-width="0.7"/>
<rect x="408.55" y="272.65" width="6.25" height="52.55" fill="#e3ecf6" stroke="#161616" stroke-width="0.7"/>
<line x1="404.73" y1="325.20" x2="404.73" y2="327.00" stroke="#333" stroke-width="0.7"/>
<rect x="423.25" y="305.75" width="6.25" height="19.45" fill="#2b4a6c" stroke="#161616" stroke-width="0.7"/>
<line x1="426.38" y1="305.40" x2="426.38" y2="304.50" stroke="#222" stroke-width="0.6"/>
<line x1="425.38" y1="304.50" x2="427.38" y2="304.50" stroke="#222" stroke-width="0.6"/>
<rect x="430.20" y="297.15" width="6.25" height="28.05" fill="#4682b8" stroke="#161616" stroke-width="0.7"/>
<line x1="433.33" y1="296.80" x2="433.33" y2="293.80" stroke="#222" stroke-width="0.6"/>
<line x1="432.33" y1="293.80" x2="434.33" y2="293.80" stroke="#222" stroke-width="0.6"/>
<rect x="437.15" y="288.35" width="6.25" height="36.85" fill="#e3ecf6" stroke="#161616" stroke-width="0.7"/>
<line x1="440.28" y1="288.00" x2="440.28" y2="286.00" stroke="#222" stroke-width="0.6"/>
<line x1="439.28" y1="286.00" x2="441.28" y2="286.00" stroke="#222" stroke-width="0.6"/>
<line x1="433.33" y1="325.20" x2="433.33" y2="327.00" stroke="#333" stroke-width="0.7"/>
<rect x="451.85" y="309.75" width="6.25" height="15.45" fill="#2b4a6c" stroke="#161616" stroke-width="0.7"/>
<line x1="454.98" y1="309.40" x2="454.98" y2="308.90" stroke="#222" stroke-width="0.6"/>
<line x1="453.98" y1="308.90" x2="455.98" y2="308.90" stroke="#222" stroke-width="0.6"/>
<rect x="458.80" y="305.75" width="6.25" height="19.45" fill="#4682b8" stroke="#161616" stroke-width="0.7"/>
<line x1="461.93" y1="305.40" x2="461.93" y2="304.70" stroke="#222" stroke-width="0.6"/>
<line x1="460.93" y1="304.70" x2="462.93" y2="304.70" stroke="#222" stroke-width="0.6"/>
<rect x="465.75" y="300.95" width="6.25" height="24.25" fill="#e3ecf6" stroke="#161616" stroke-width="0.7"/>
<line x1="468.88" y1="300.60" x2="468.88" y2="300.30" stroke="#222" stroke-width="0.6"/>
<line x1="467.88" y1="300.30" x2="469.88" y2="300.30" stroke="#222" stroke-width="0.6"/>
<line x1="461.93" y1="325.20" x2="461.93" y2="327.00" stroke="#333" stroke-width="0.7"/>
<rect x="480.45" y="312.35" width="6.25" height="12.85" fill="#2b4a6c" stroke="#161616" stroke-width="0.7"/>
<line x1="483.58" y1="312.00" x2="483.58" y2="311.70" stroke="#222" stroke-width="0.6"/>
<line x1="482.58" y1="311.70" x2="484.58" y2="311.70" stroke="#222" stroke-width="0.6"/>
<rect x="487.40" y="310.65" width="6.25" height="14.55" fill="#4682b8" stroke="#161616" stroke-width="0.7"/>
<line x1="490.53" y1="310.30" x2="490.53" y2="309.40" stroke="#222" stroke-width="0.6"/>
<line x1="489.53" y1="309.40" x2="491.53" y2="309.40" stroke="#222" stroke-width="0.6"/>
<rect x="494.35" y="309.25" width="6.25" height="15.95" fill="#e3ecf6" stroke="#161616" stroke-width="0.7"/>
<line x1="497.48" y1="308.90" x2="497.48" y2="308.60" stroke="#222" stroke-width="0.6"/>
<line x1="496.48" y1="308.60" x2="498.48" y2="308.60" stroke="#222" stroke-width="0.6"/>
<line x1="490.53" y1="325.20" x2="490.53" y2="327.00" stroke="#333" stroke-width="0.7"/>
<text x="404.70" y="333.20" font-size="4.9" text-anchor="middle" font-weight="bold" fill="#1a1a1a" stroke="#1a1a1a" stroke-width="0.12">0</text>
<text x="433.30" y="333.20" font-size="4.9" text-anchor="middle" font-weight="bold" fill="#1a1a1a" stroke="#1a1a1a" stroke-width="0.12">0.01</text>
<text x="461.90" y="333.20" font-size="4.9" text-anchor="middle" font-weight="bold" fill="#1a1a1a" stroke="#1a1a1a" stroke-width="0.12">0.1</text>
<text x="490.50" y="333.20" font-size="4.9" text-anchor="middle" font-weight="bold" fill="#1a1a1a" stroke="#1a1a1a" stroke-width="0.12">1</text>
<line x1="426.30" y1="253.90" x2="440.10" y2="253.90" stroke="#505050" stroke-width="1.0"/>
<rect x="429.15" y="249.85" width="1.50" height="1.50" fill="#222"/>
<rect x="432.45" y="249.85" width="1.50" height="1.50" fill="#222"/>
<rect x="435.75" y="249.85" width="1.50" height="1.50" fill="#222"/>
<line x1="455.00" y1="253.90" x2="469.80" y2="253.90" stroke="#505050" stroke-width="1.0"/>
<rect x="458.35" y="249.85" width="1.50" height="1.50" fill="#222"/>
<rect x="461.65" y="249.85" width="1.50" height="1.50" fill="#222"/>
<rect x="464.95" y="249.85" width="1.50" height="1.50" fill="#222"/>
<line x1="483.70" y1="253.90" x2="498.20" y2="253.90" stroke="#505050" stroke-width="1.0"/>
<rect x="486.90" y="249.85" width="1.50" height="1.50" fill="#222"/>
<rect x="490.20" y="249.85" width="1.50" height="1.50" fill="#222"/>
<rect x="493.50" y="249.85" width="1.50" height="1.50" fill="#222"/>
<line x1="426.30" y1="265.50" x2="433.20" y2="265.50" stroke="#505050" stroke-width="1.0"/>
<rect x="429.00" y="261.45" width="1.50" height="1.50" fill="#222"/>
<line x1="455.00" y1="265.50" x2="461.90" y2="265.50" stroke="#505050" stroke-width="1.0"/>
<rect x="456.05" y="261.45" width="1.50" height="1.50" fill="#222"/>
<rect x="459.35" y="261.45" width="1.50" height="1.50" fill="#222"/>
<line x1="483.70" y1="265.50" x2="490.60" y2="265.50" stroke="#505050" stroke-width="1.0"/>
<text x="487.15" y="263.50" font-size="5.2" text-anchor="middle" font-weight="bold" fill="#333" stroke="#333" stroke-width="0.05" textLength="4.3" lengthAdjust="spacingAndGlyphs">ns</text>
<text x="447.60" y="342.90" font-size="5.9" text-anchor="middle" font-weight="bold" fill="#111" stroke="#111" stroke-width="0.1">MOI</text>
<rect x="508.30" y="267.15" width="5.20" height="2.90" fill="#2b4a6c" stroke="#161616" stroke-width="0.75"/>
<text x="517.10" y="270.35" font-size="5.1" text-anchor="start" font-weight="bold" fill="#111" stroke="#111" stroke-width="0.3">sgNTC</text>
<rect x="508.30" y="274.00" width="5.20" height="2.90" fill="#4682b8" stroke="#161616" stroke-width="0.75"/>
<text x="517.10" y="277.20" font-size="5.1" text-anchor="start" font-weight="bold" fill="#111" stroke="#111" stroke-width="0.3">sgSOX10-4</text>
<rect x="508.30" y="280.85" width="5.20" height="2.90" fill="#e3ecf6" stroke="#161616" stroke-width="0.75"/>
<text x="517.10" y="284.05" font-size="5.1" text-anchor="start" font-weight="bold" fill="#111" stroke="#111" stroke-width="0.3">sgSOX10-24</text>
</svg>
</body></html>
